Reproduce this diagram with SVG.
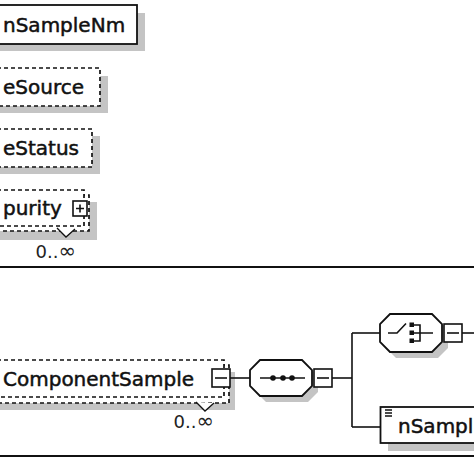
<svg xmlns="http://www.w3.org/2000/svg" width="474" height="474" viewBox="0 0 474 474">
<style>
.sh{fill:#c4c4c4;stroke:none}
.box{fill:#fff;stroke:#111;stroke-width:1.8}
.dash{fill:#fff;stroke:#111;stroke-width:1.7;stroke-dasharray:4 3}
.btn{fill:#fff;stroke:#111;stroke-width:1.6}
.ln{fill:none;stroke:#111;stroke-width:1.6}
.lbl{font-family:"DejaVu Sans",Verdana,sans-serif;font-size:20px;fill:#111;stroke:#111;stroke-width:0.5}
.occ{font-family:"DejaVu Sans",Verdana,sans-serif;font-size:18px;fill:#222}
.inf{font-size:21px}
.sep{stroke:#111;stroke-width:2}
</style>
<rect width="474" height="474" fill="#fff"/>

<g id="node-nSampleNm">
<rect class="sh" x="-10" y="13" width="155" height="38"/>
<rect class="box" x="-10" y="5" width="147" height="39"/>
<text class="lbl" x="3" y="32">nSampleNm</text>
</g>

<g id="node-eSource">
<rect class="sh" x="-10" y="76" width="118" height="37"/>
<rect class="dash" x="-10" y="68" width="110" height="38"/>
<text class="lbl" x="3" y="94">eSource</text>
</g>

<g id="node-eStatus">
<rect class="sh" x="-10" y="136" width="110" height="38"/>
<rect class="dash" x="-10" y="129" width="102" height="38"/>
<text class="lbl" x="3" y="155">eStatus</text>
</g>

<g id="node-purity">
<rect class="sh" x="-10" y="202" width="107" height="38"/>
<rect class="dash" x="-10" y="195" width="99" height="36"/>
<rect class="dash" x="-10" y="190" width="94" height="36"/>
<rect class="btn" x="73" y="201" width="14" height="15"/>
<path class="ln" d="M76,208.5 H84 M80,204.5 V212.5"/>
<polyline points="57,228 66,237 75,229" fill="#fff" stroke="#111" stroke-width="1.3"/>
<text class="lbl" x="3" y="215">purity</text>
<text class="occ" x="76" y="258" text-anchor="end">0..<tspan class="inf">∞</tspan></text>
</g>

<line class="sep" x1="0" y1="267" x2="474" y2="267"/>

<g id="node-ComponentSample">
<rect class="sh" x="-10" y="372" width="245" height="38"/>
<rect class="dash" x="-10" y="365" width="239" height="38"/>
<rect class="dash" x="-10" y="360" width="234" height="37"/>
<rect class="btn" x="212" y="369" width="18" height="18"/>
<path class="ln" d="M215,378 H227"/>
<polyline points="196,402 205,411 214,403" fill="#fff" stroke="#111" stroke-width="1.3"/>
<text class="lbl" x="3" y="385.5">ComponentSample</text>
<text class="occ" x="214" y="428" text-anchor="end">0..<tspan class="inf">∞</tspan></text>
</g>

<g id="node-sequence">
<path class="sh" d="M266,366 H308 L318,376 V392 L308,402 H266 L256,392 V376 Z"/>
<path class="box" d="M260,360 H302 L312,370 V386 L302,396 H260 L250,386 V370 Z"/>
<path class="ln" d="M260,378 H305"/>
<circle cx="273" cy="378" r="2.8" fill="#111"/>
<circle cx="283" cy="378" r="2.8" fill="#111"/>
<circle cx="292" cy="378" r="2.8" fill="#111"/>
<rect class="btn" x="314" y="369" width="18" height="18"/>
<path class="ln" d="M317,378 H329"/>
</g>

<g id="node-choice">
<path class="sh" d="M396,320 H438 L448,330 V348 L438,358 H396 L386,348 V330 Z"/>
<path class="box" d="M390,314 H432 L442,324 V342 L432,352 H390 L380,342 V324 Z"/>
<path class="ln" d="M388,333 H397 L406,323.5"/>
<rect x="409.5" y="322.5" width="4.5" height="4.5" fill="#111"/>
<rect x="409.5" y="330.5" width="4.5" height="4.5" fill="#111"/>
<rect x="409.5" y="338.5" width="4.5" height="4.5" fill="#111"/>
<path class="ln" d="M414,325 H420 V341 H414 M414,333 H433"/>
<rect class="btn" x="444" y="324" width="18" height="18"/>
<path class="ln" d="M447,333 H459"/>
</g>

<g id="node-nSampl">
<rect class="sh" x="388" y="415" width="96" height="36"/>
<rect class="box" x="380.5" y="407" width="100" height="36"/>
<path class="ln" d="M385,410 H392 M385,413 H392 M385,416 H392" stroke-width="1.1"/>
<text class="lbl" x="398" y="433">nSampl</text>
</g>

<g id="connectors">
<path class="ln" d="M230,378 H250"/>
<path class="ln" d="M332,378 H352"/>
<path class="ln" d="M352,333 V427"/>
<path class="ln" d="M352,333 H380"/>
<path class="ln" d="M352,427 H380.5"/>
<path class="ln" d="M462,333 H474"/>
</g>

<line class="sep" x1="0" y1="456" x2="474" y2="456"/>
</svg>
